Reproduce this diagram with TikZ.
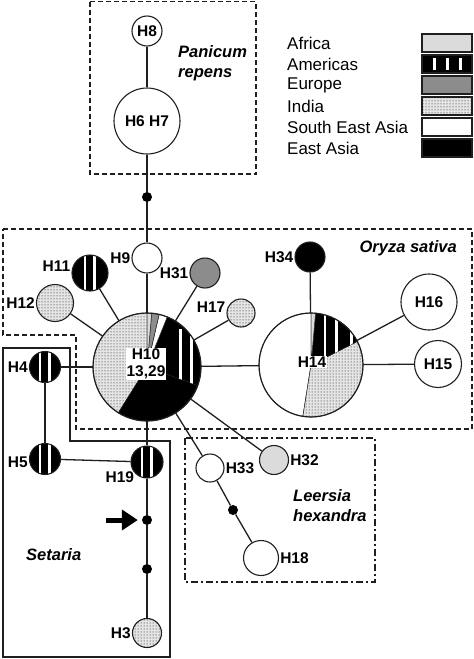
\documentclass[tikz,border=0pt]{standalone}
\usepackage{fontspec}
\setmainfont{Liberation Sans}
\usetikzlibrary{arrows.meta,positioning,patterns}
\definecolor{hafrica}{gray}{0.86}
\definecolor{heurope}{gray}{0.55}
\definecolor{hindia}{gray}{0.90}
\definecolor{hline}{gray}{0.12}

\newcommand\hfont{\fontsize{15.5}{18}\selectfont\bfseries}
\newcommand\spfont{\fontsize{16.5}{20}\selectfont\bfseries\itshape}
\newcommand\lgfont{\fontsize{17}{20}\selectfont}
% one slice of a pie, drawn in a scope centred on the pie
\newcommand\pieslice[4]{\path[draw=hline, line width=0.5pt, #4] (0,0) -- (#1:#3)
  arc[start angle=#1, end angle=#2, radius=#3] -- cycle;}

\begin{document}
\begin{tikzpicture}[
  x=1pt, y=-1pt,
  every node/.style={font=\hfont},
  hap/.style={circle, draw=hline, line width=1.1pt, fill=white, inner sep=0pt,
    minimum size=#1},
  hap/.default=30pt,
  mdot/.style={circle, fill=black, inner sep=0pt, minimum size=10pt},
  edge/.style={draw=hline, line width=1.3pt},
  africa/.style={fill=hafrica},
  europe/.style={fill=heurope},
  india/.style={preaction={fill=hindia}, pattern=dots, pattern color=black},
  seasia/.style={fill=white},
  eastasia/.style={fill=black},
  america/.style={fill=black, path picture={
    \fill[white] ([xshift=-6.2pt]path picture bounding box.south)
      rectangle ([xshift=-3.6pt]path picture bounding box.north);
    \fill[white] ([xshift=3.3pt]path picture bounding box.south)
      rectangle ([xshift=5.9pt]path picture bounding box.north);}},
  legamerica/.style={fill=black, path picture={
    \foreach \dx in {-13,0,13}
      \fill[white] ([xshift={\dx pt-1.5pt}, yshift=3pt]path picture bounding box.south)
        rectangle ([xshift={\dx pt+1.5pt}, yshift=-3pt]path picture bounding box.north);}},
  lab/.style={inner sep=1pt, font=\hfont},
  pielab/.style={fill=white, inner sep=1pt, align=center, font=\hfont},
  species/.style={font=\spfont, align=left, inner sep=0pt},
  region/.style={font=\lgfont, anchor=west, inner sep=0pt},
  key/.style={draw=hline, line width=1.3pt, minimum width=50pt, minimum height=18pt,
    inner sep=0pt},
  panbox/.style={draw=hline, line width=1.2pt, dash pattern=on 5pt off 3pt},
  leebox/.style={draw=hline, line width=1.2pt, dash pattern=on 7pt off 3pt on 2pt off 3pt},
  setbox/.style={draw=hline, line width=1.5pt}
]
  \useasboundingbox (0,0) rectangle (474,659);

  % species boxes
  \draw[panbox] (90,1.5) rectangle (256,174);
  \draw[panbox] (3,229) -- (472,229) -- (472,429) -- (76,429) -- (76,335) -- (3,335) -- cycle;
  \draw[setbox] (3,348) -- (70,348) -- (70,441) -- (170,441) -- (170,657) -- (3,657) -- cycle;
  \draw[leebox] (185,438) rectangle (375,582);

  \node[species, anchor=west] (pan) at (178,63) {Panicum\\repens};
  \node[species, anchor=east] (ory) at (457,248) {Oryza sativa};
  \node[species, anchor=west] (lee) at (293,506) {Leersia\\hexandra};
  \node[species, anchor=west] (set) at (26,555) {Setaria};

  % haplotypes
  \node[hap] (H8) at (147,31) {H8};
  \node[hap=66pt] (H67) at (147,121) {H6 H7};
  \node[mdot] (dA) at (147,197) {};
  \node[hap, label={[lab]left:H9}] (H9) at (147,258) {};
  \node[circle, minimum size=108pt, inner sep=0pt] (H10) at (147,367) {};
  \node[hap=36pt, america, label={[lab, yshift=7pt]left:H11}] (H11) at (90,273) {};
  \node[hap=37pt, india, label={[lab]left:H12}] (H12) at (55,303) {};
  \node[hap, europe, label={[lab]left:H31}] (H31) at (205,273) {};
  \node[hap=28pt, india, label={[lab, yshift=6pt]left:H17}] (H17) at (241,313) {};
  \node[hap=31pt, america, label={[lab]left:H4}] (H4) at (45,367) {};
  \node[hap=31pt, america, label={[lab, yshift=-3pt]left:H5}] (H5) at (45,459) {};
  \node[hap=32pt, america, label={[lab, yshift=3pt]below left:H19}] (H19) at (147,462) {};
  \node[mdot] (dS1) at (147,520) {};
  \node[mdot] (dS2) at (147,569) {};
  \node[hap=29pt, india, label={[lab]left:H3}] (H3) at (147,633) {};
  \coordinate (arrtail) at (106,520);
  \node[circle, minimum size=104pt, inner sep=0pt] (H14) at (311,365) {};
  \node[hap, eastasia, label={[lab]left:H34}] (H34) at (310,257) {};
  \node[hap=56pt] (H16) at (429,302) {H16};
  \node[hap=47pt] (H15) at (438,364) {H15};
  \node[hap=28pt, label={[lab]right:H33}] (H33) at (210,468) {};
  \node[hap=29pt, africa, label={[lab]right:H32}] (H32) at (274,460) {};
  \node[mdot] (dL) at (233,510) {};
  \node[hap=35pt, label={[lab]right:H18}] (H18) at (261,558) {};

  % links
  \draw[edge] (H8) -- (H67);
  \draw[edge] (H67) -- (dA) -- (H9);
  \draw[edge] (H9) -- (H10);
  \draw[edge] (H10) -- (H11);
  \draw[edge] (H10) -- (H12);
  \draw[edge] (H10) -- (H31);
  \draw[edge] (H10) -- (H17);
  \draw[edge] (H10) -- (H4);
  \draw[edge] (H10) -- (H14);
  \draw[edge] (H10) -- (H19);
  \draw[edge] (H10) -- (H33);
  \draw[edge] (H10) -- (H32);
  \draw[edge] (H4) -- (H5);
  \draw[edge] (H5) -- (H19);
  \draw[edge] (H19) -- (dS1) -- (dS2) -- (H3);
  \draw[edge] (H33) -- (dL) -- (H18);
  \draw[edge] (H14) -- (H34);
  \draw[edge] (H14) -- (H16);
  \draw[edge] (H14) -- (H15);
  \draw[-{Triangle[length=16pt, width=20pt]}, line width=5pt, shorten >=4pt]
    (arrtail) -- (dS1);

  % pie of H10
  \begin{scope}[shift={(H10.center)}, y=1pt]
    \pieslice{90}{238}{54}{india}
    \pieslice{238}{340}{54}{eastasia}
    \pieslice{-20}{68}{54}{eastasia}
    \begin{scope}
      \clip (0,0) -- (-20:54) arc[start angle=-20, end angle=68, radius=54] -- cycle;
      \fill[white] (31.5,-60) rectangle (34.5,38);
      \fill[white] (43,-60) rectangle (46,35);
    \end{scope}
    \pieslice{68}{77}{54}{seasia}
    \pieslice{77}{85}{54}{europe}
    \pieslice{85}{90}{54}{africa}
    \draw[hline, line width=1.2pt] (0,0) circle[radius=54];
  \end{scope}
  \node[pielab] (H10lab) at (146,364) {H10\\[-1pt]13,29};

  % pie of H14
  \begin{scope}[shift={(H14.center)}, y=1pt]
    \pieslice{90}{261}{52}{seasia}
    \pieslice{261}{387}{52}{india}
    \pieslice{27}{85}{52}{eastasia}
    \begin{scope}
      \clip (0,0) -- (27:52) arc[start angle=27, end angle=85, radius=52] -- cycle;
      \fill[white] (12.5,0) rectangle (15,60);
      \fill[white] (24,0) rectangle (26.5,60);
      \fill[white] (39,0) rectangle (41.5,60);
    \end{scope}
    \pieslice{85}{90}{52}{africa}
    \draw[hline, line width=1.2pt] (0,0) circle[radius=52];
  \end{scope}
  \node[lab, fill=white, inner sep=0.5pt] (H14lab) at (312,362) {H14};

  % legend
  \foreach \reg/\sty [count=\i] in {Africa/africa, Americas/legamerica, Europe/europe,
      India/india, South East Asia/seasia, East Asia/eastasia}
  {
    \node[region] (reg\i) at (287,22+21*\i) {\reg};
    \node[key, \sty] (key\i) at (447,22+21*\i) {};
  }
\end{tikzpicture}
\end{document}
